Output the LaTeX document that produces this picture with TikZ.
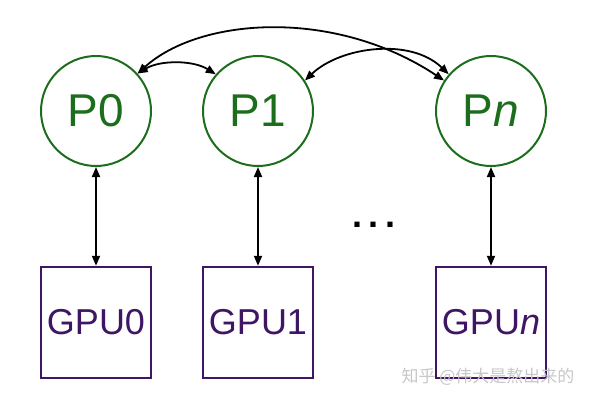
\documentclass[tikz,border=0pt]{standalone}
\usepackage{fontspec}
\setmainfont{Liberation Sans}
\newfontfamily\cjk{Noto Sans CJK SC}
\usetikzlibrary{arrows.meta}
\definecolor{pgreen}{RGB}{28,110,28}
\definecolor{gpurple}{RGB}{62,22,100}
\begin{document}
\begin{tikzpicture}[x=1pt,y=-1pt,
  proc/.style={circle, draw=pgreen, line width=2pt, minimum size=110pt, inner sep=0pt, text=pgreen, font=\fontsize{46}{50}\selectfont},
  gpu/.style={rectangle, draw=gpurple, line width=2.4pt, minimum width=110pt, minimum height=111pt, inner sep=0pt, text=gpurple, font=\fontsize{36}{40}\selectfont},
  link/.style={{Triangle[length=10pt,width=8pt]}-{Triangle[length=10pt,width=8pt]}, line width=1.8pt, black}]
\useasboundingbox (0,0) rectangle (591,401);
\node[proc] (P0) at (96,111) {P0};
\node[proc] (P1) at (258,111) {P1};
\node[proc] (Pn) at (491,111) {P\textit{n}};
\node[gpu] (G0) at (96,322.5) {GPU0};
\node[gpu] (G1) at (258,322.5) {GPU1};
\node[gpu] (Gn) at (491,322.5) {GPU\textit{n}};
\node[font=\bfseries\fontsize{36}{40}\selectfont, inner sep=0pt] (dots) at (374,225) {.\kern6.5pt.\kern6.5pt.};
\draw[link] (P0.south) -- (G0.north);
\draw[link] (P1.south) -- (G1.north);
\draw[link] (Pn.south) -- (Gn.north);
\draw[link] (P0.42) .. controls (160,60) and (193,60) .. (P1.139);
\draw[link] (P0.42) .. controls (200,17) and (335,8) .. (Pn.147);
\draw[link] (P1.33) .. controls (340,47) and (410,37) .. (Pn.139);
\node[text=black!22, font=\cjk\fontsize{17}{20}\selectfont, inner sep=0pt] (wm) at (488,377) {知乎 @伟大是熬出来的};
\end{tikzpicture}
\end{document}
